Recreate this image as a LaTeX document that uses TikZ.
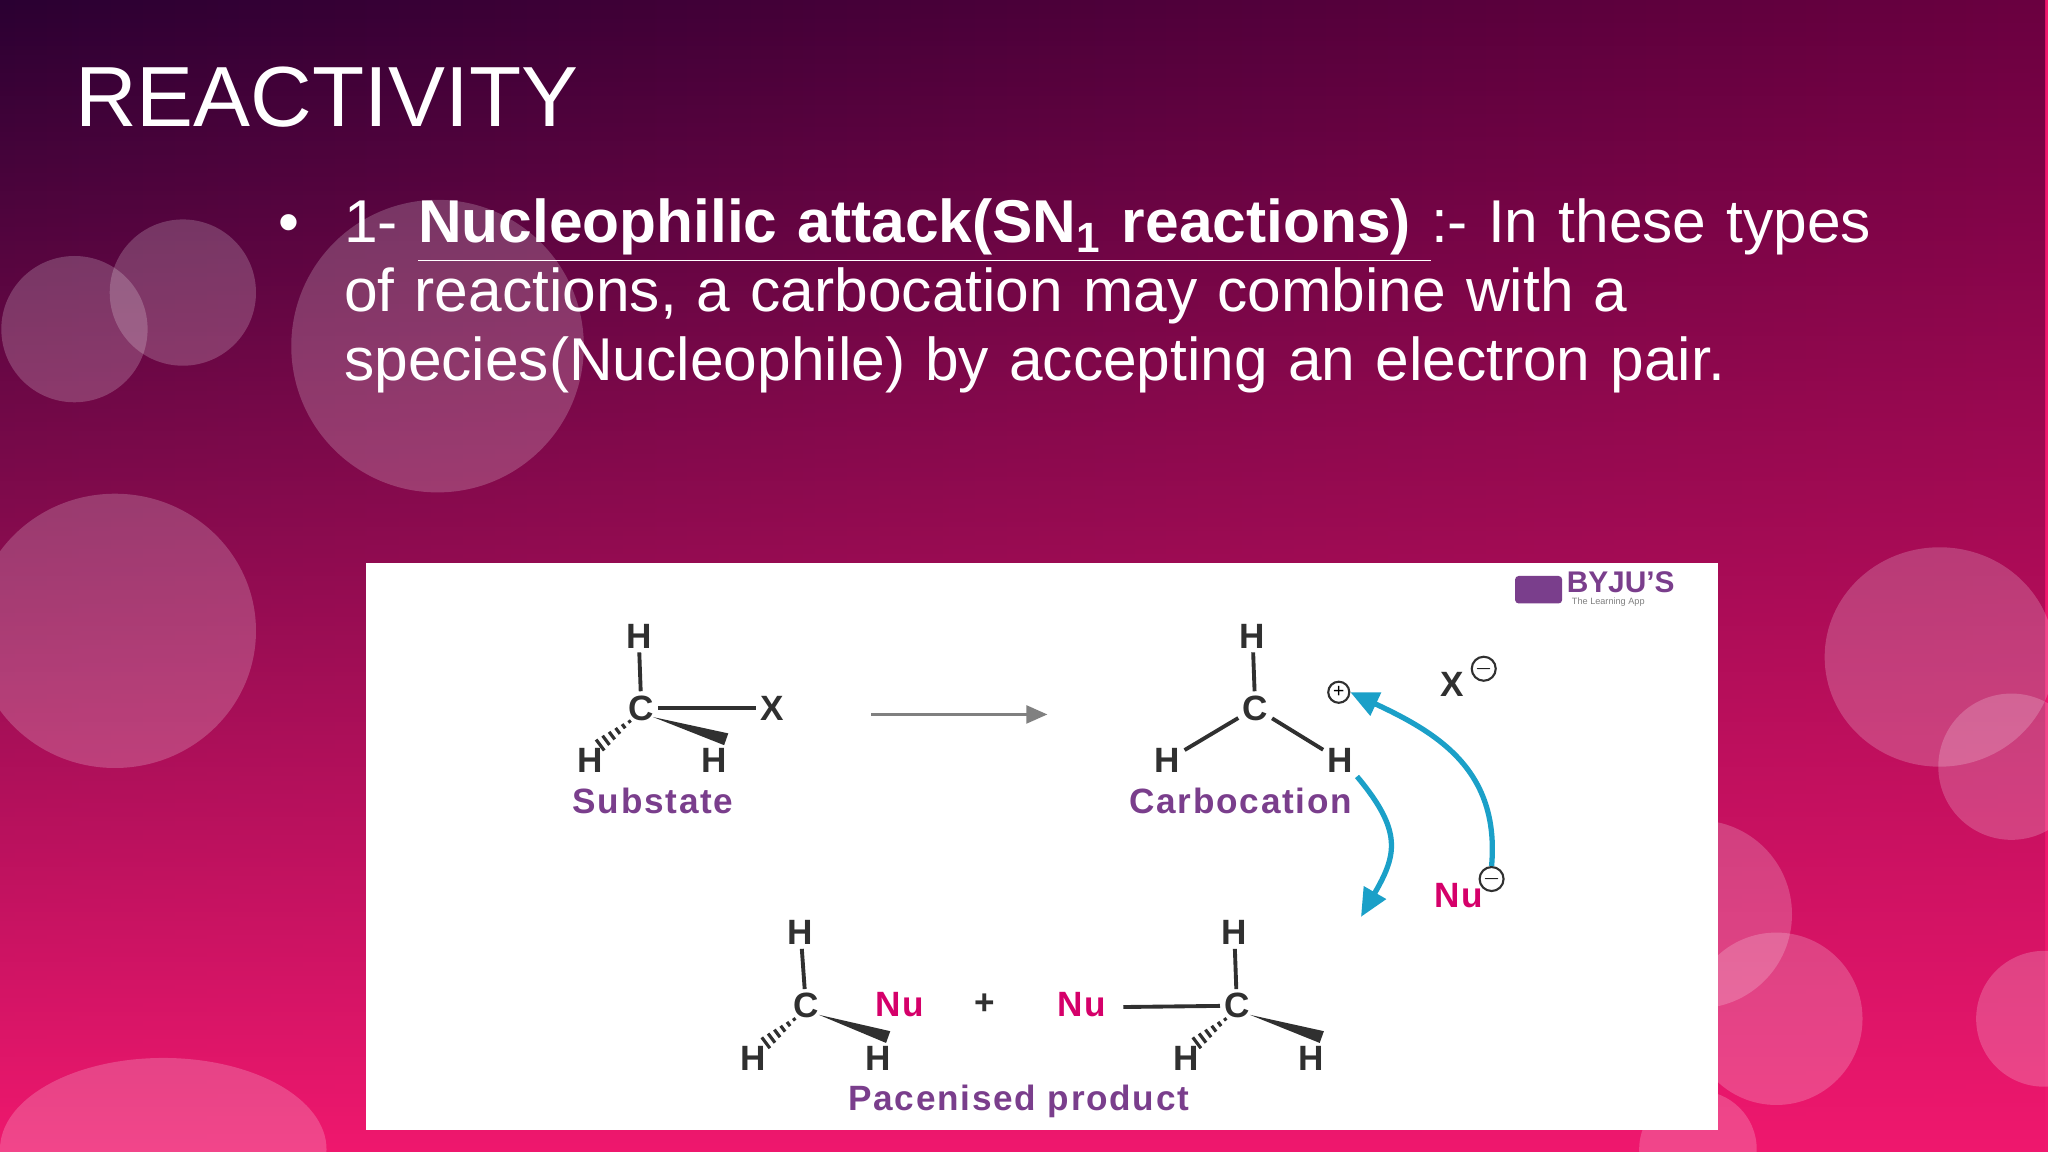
\documentclass[tikz,border=0pt]{standalone}
\usepackage{fontspec}
\setmainfont{Liberation Sans}
\newfontfamily\wide[LetterSpace=5]{Liberation Sans}
\usetikzlibrary{fadings,arrows.meta,calc}
\definecolor{lab}{HTML}{7A3E8C}
\definecolor{nuc}{HTML}{D5006A}
\definecolor{arr}{HTML}{1BA0C8}
\definecolor{bond}{HTML}{303030}
\definecolor{dk1}{HTML}{2A0032}
\definecolor{dk2}{HTML}{6A0040}
\definecolor{bgbot}{HTML}{F0186E}
\tikzset{
 bub/.style={fill=white,fill opacity=0.2},
 atm/.style={font=\fontsize{10}{10}\selectfont\wide\bfseries,text=bond,inner sep=1pt},
 nu/.style={font=\fontsize{10}{10}\selectfont\wide\bfseries,text=nuc,inner sep=1pt},
 lb/.style={font=\fontsize{10}{10}\selectfont\wide\bfseries,text=lab},
 bd/.style={draw=bond,line width=1.1pt},
 chg/.style={circle,draw=bond,line width=0.6pt,inner sep=0pt,minimum size=6pt,font=\fontsize{5.5}{5}\selectfont},
}
\newcommand{\solidwedge}[2]{\fill[bond] (#1) -- ($(#2)+(1.6,-4.5)$) -- ($(#2)+(-1.6,4.5)$) -- cycle;}
\newcommand{\hashwedge}[2]{\foreach \t/\w in {0.1/1.2,0.25/2,0.4/2.8,0.55/3.6,0.7/4.4,0.85/5.2}{\draw[bond,line width=0.9pt] ($(#1)!\t!(#2)+(-\w*0.6,-\w*0.8)$) -- ($(#1)!\t!(#2)+(\w*0.6,\w*0.8)$);}}
\newcommand{\ulx}[1]{\underline{#1}}
\begin{document}
\begin{tikzpicture}[x=0.01306cm,y=-0.01306cm]
\useasboundingbox (0,0) rectangle (1568,882);
\fill[bgbot] (0,0) rectangle (1568,882);
\shade[left color=dk1,right color=dk2,path fading=south] (0,0) rectangle (1568,882);
% bubbles
\fill[bub] (140,224) circle (56);
\fill[bub] (57,252) circle (56);
\fill[bub] (335,265) circle (112);
\fill[bub] (88,483) ellipse (108 and 105);
\fill[bub] (1485,503) ellipse (88 and 84);
\fill[bub] (1540,587) circle (56);
\fill[bub] (1300,700) circle (72);
\fill[bub] (1360,780) circle (66);
\fill[bub] (1565,780) circle (52);
\fill[bub] (125,880) ellipse (125 and 70);
\fill[bub] (1300,880) circle (45);
% title and text
\node[anchor=base west,text=white,font=\fontsize{24.3}{26}\selectfont,inner sep=0] (title) at (57,97) {REACTIVITY};
\node[anchor=base,text=white,font=\fontsize{17}{20}\selectfont,inner sep=0] (bul) at (221,186) {•};
\node[anchor=base west,text=white,font=\fontsize{17.2}{19.6}\selectfont,inner sep=0,text width=16cm,align=left] (body) at (263,186)
 {1- \textbf{\ulx{Nucleophilic attack(SN\textsubscript{1} reactions) }}:- In these types\\of reactions, a carbocation may combine with a\\species(Nucleophile) by accepting an electron pair.};
% white image
\fill[white] (280,431) rectangle (1315,865);
% logo
\fill[lab,rounded corners=1pt] (1160,441) rectangle (1196,462);
\node[anchor=west,text=lab,font=\fontsize{8.5}{9}\selectfont\bfseries,inner sep=0] (byj) at (1199,446) {BYJU'S};
\node[anchor=west,text=gray,font=\fontsize{2.6}{3}\selectfont,inner sep=0] (tla) at (1203,461) {The Learning App};
% substrate
\node[atm] (sH) at (489,487) {H};
\node[atm] (sC) at (491,542) {C};
\node[atm] (sX) at (591,542) {X};
\node[atm] (sH1) at (452,582) {H};
\node[atm] (sH2) at (547,582) {H};
\draw[bd] (sH) -- (sC);
\draw[bd] (sC) -- (sX);
\coordinate (sw1) at (500,549); \coordinate (sw2) at (556,566);
\solidwedge{sw1}{sw2}
\coordinate (sh1) at (485,550); \coordinate (sh2) at (455,574);
\hashwedge{sh1}{sh2}
\node[lb] (subl) at (500,613) {Substate};
% reaction arrow
\coordinate (ra1) at (667,547); \coordinate (ra2) at (802,547);
\draw[gray,line width=1pt,-{Triangle[length=6pt,width=5pt]}] (ra1) -- (ra2);
% carbocation
\node[atm] (cH) at (959,487) {H};
\node[atm] (cC) at (961,542) {C};
\node[atm] (cH1) at (894,582) {H};
\node[atm] (cH2) at (1026,582) {H};
\draw[bd] (cH) -- (cC);
\draw[bd] (cC) -- (cH1);
\draw[bd] (cC) -- (cH2);
\node[chg] (plus) at (1025,530) {+};
\node[atm] (cX) at (1112,524) {X};
\node[chg] (xm) at (1136,512) {$-$};
\node[lb] (carl) at (950,613) {Carbocation};
\node[nu] (nuA) at (1117,686) {Nu};
\node[chg] (num) at (1142,673) {$-$};
\coordinate (arrend) at (1042,702);
\draw[arr,line width=1.5pt,-{Triangle[length=8pt,width=7pt]}] (num.north) to[out=85,in=-25,looseness=1.1] (plus.east);
\draw[arr,line width=1.5pt,-{Triangle[length=8pt,width=7pt]}] (cH2.south east) to[out=-50,in=60,looseness=1.3] (arrend);
% product 1
\node[atm] (p1H) at (613,714) {H};
\node[atm] (p1C) at (617,770) {C};
\node[atm] (p1H1) at (577,810) {H};
\node[atm] (p1H2) at (672,810) {H};
\draw[bd] (p1H) -- (p1C);
\coordinate (pw1) at (627,777); \coordinate (pw2) at (680,794);
\solidwedge{pw1}{pw2}
\coordinate (ph1) at (611,778); \coordinate (ph2) at (582,802);
\hashwedge{ph1}{ph2}
\node[nu] (p1N) at (689,769) {Nu};
\node[atm] (plus2) at (754,769) {+};
% product 2
\node[nu] (p2N) at (828,769) {Nu};
\node[atm] (p2C) at (947,770) {C};
\node[atm] (p2H) at (945,714) {H};
\node[atm] (p2H1) at (908,810) {H};
\node[atm] (p2H2) at (1004,810) {H};
\draw[bd] (p2H) -- (p2C);
\coordinate (nb) at (860,771);
\draw[bd] (nb) -- (p2C);
\coordinate (qw1) at (957,777); \coordinate (qw2) at (1012,794);
\solidwedge{qw1}{qw2}
\coordinate (qh1) at (941,778); \coordinate (qh2) at (912,802);
\hashwedge{qh1}{qh2}
\node[lb] (prl) at (780,843) {Pacenised product};
\end{tikzpicture}
\end{document}
